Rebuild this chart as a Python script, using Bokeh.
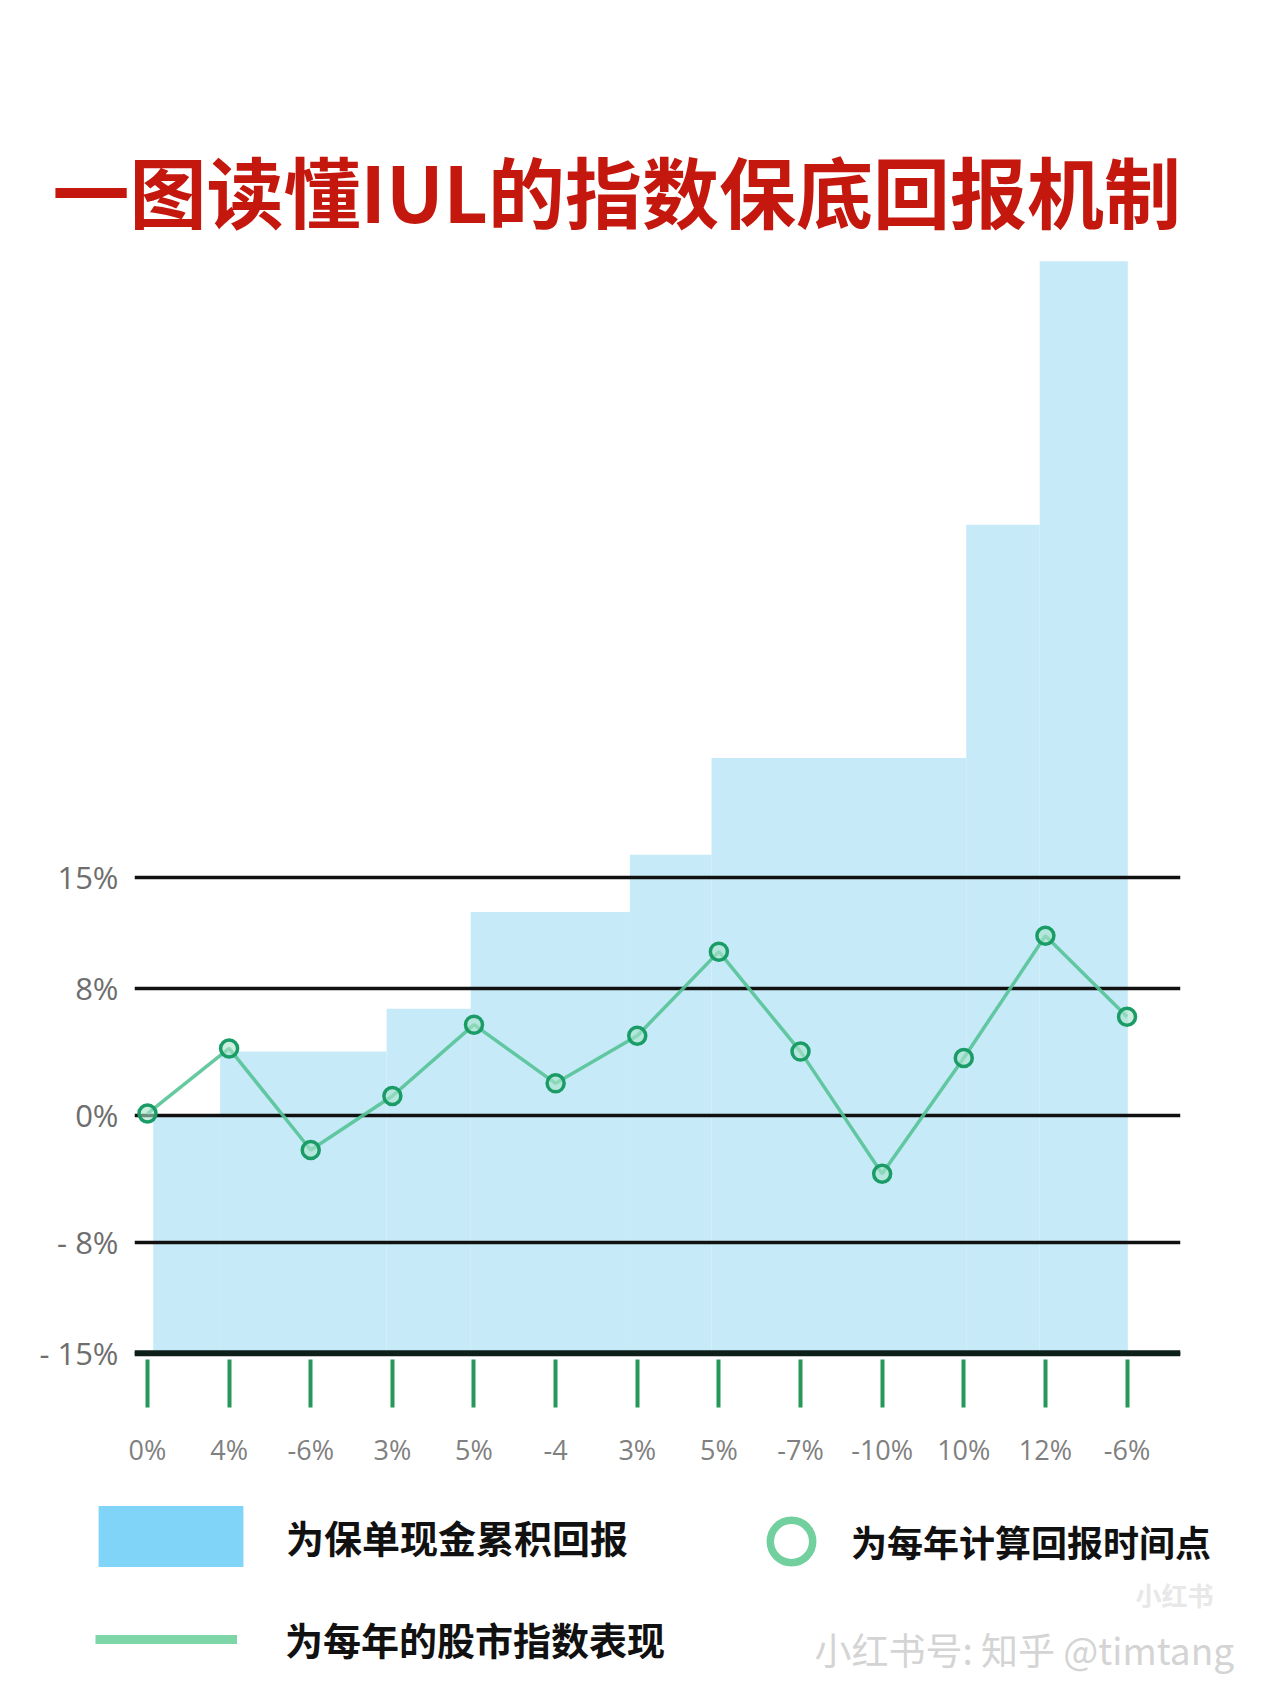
from bokeh.plotting import figure
from bokeh.models import (ColumnDataSource, FixedTicker, Span, Legend, LegendItem,
                          Label, Range1d)
from bokeh.embed import file_html
from bokeh.resources import INLINE

# ---------------- data ----------------
title_text = "一图读懂IUL的指数保底回报机制"
years = list(range(13))
index_labels = ["0%", "4%", "-6%", "3%", "5%", "-4", "3%", "5%", "-7%",
                "-10%", "10%", "12%", "-6%"]
# drawn yearly index-performance curve (as plotted, in %)
index_curve = [0.1, 4.2, -2.2, 1.2, 5.7, 2.0, 5.0, 10.3, 4.0, -3.7, 3.6, 11.3, 6.2]
# cumulative cash-value steps
step_left = [0.07, 0.89, 2.93, 3.96, 5.91, 6.91, 10.03, 10.93]
step_right = [0.89, 2.93, 3.96, 5.91, 6.91, 10.03, 10.93, 12.01]
step_top = [0.0, 4.0, 6.7, 12.8, 16.4, 22.5, 37.2, 53.8]
floor_value = -15
y_ticks = [-15, -8, 0, 8, 15]
y_tick_labels = ["- 15%", "- 8%", "0%", "8%", "15%"]
legend_labels = ["为保单现金累积回报", "为每年计算回报时间点", "为每年的股市指数表现"]
watermark = "小红书号: 知乎 @timtang"
badge = "小红书"

CJK = "Noto Sans CJK SC"
LAT = "Open Sans"

# ---------------- main chart ----------------
p = figure(width=1280, height=1484,
           x_range=Range1d(-0.159, 12.655), y_range=Range1d(-15.4, 54.48),
           output_backend="svg", toolbar_location=None,
           min_border_left=134, min_border_right=100,
           min_border_top=250, min_border_bottom=125,
           title=title_text)
p.outline_line_color = None
p.background_fill_color = "white"
p.border_fill_color = "white"

p.title.text_font = CJK
p.title.text_font_size = "77px"
p.title.text_font_style = "bold"
p.title.text_color = "#c4170e"
p.title.align = "left"
p.title.offset = -82
p.title.standoff = 11

bars = ColumnDataSource(dict(left=step_left, right=step_right, top=step_top))
rb = p.quad(left="left", right="right", bottom=floor_value, top="top", source=bars,
            fill_color="#c7eaf9", line_color=None)
rb.level = "image"

p.xgrid.visible = False
p.ygrid.ticker = FixedTicker(ticks=y_ticks)
p.ygrid.grid_line_color = "#111111"
p.ygrid.grid_line_width = 3.5

p.add_layout(Span(location=floor_value, dimension="width",
                  line_color="#0c1f18", line_width=6))

curve = ColumnDataSource(dict(x=years, y=index_curve))
p.line(x="x", y="y", source=curve, line_color="#55c396", line_width=3.5, line_alpha=0.9)
p.scatter(x="x", y="y", source=curve, marker="circle", size=17,
          fill_color="#a9e3c9", fill_alpha=0.6, line_color="#1a9c66", line_width=3.5)

# y axis
p.yaxis.ticker = FixedTicker(ticks=y_ticks)
p.yaxis.major_label_overrides = dict(zip(y_ticks, y_tick_labels))
p.yaxis.axis_line_color = None
p.yaxis.major_tick_line_color = None
p.yaxis.major_tick_out = 0
p.yaxis.major_tick_in = 0
p.yaxis.minor_tick_line_color = None
p.yaxis.major_label_text_font = LAT
p.yaxis.major_label_text_font_size = "31px"
p.yaxis.major_label_text_color = "#6e6e6e"
p.yaxis.major_label_standoff = 16

# x axis
p.xaxis.ticker = FixedTicker(ticks=years)
p.xaxis.major_label_overrides = dict(zip(years, index_labels))
p.xaxis.axis_line_color = None
p.xaxis.minor_tick_line_color = None
p.xaxis.major_tick_line_color = "#27975a"
p.xaxis.major_tick_line_width = 4
p.xaxis.major_tick_in = 0
p.xaxis.major_tick_out = 48
p.xaxis.major_label_text_font = LAT
p.xaxis.major_label_text_font_size = "27px"
p.xaxis.major_label_text_color = "#808080"
p.xaxis.major_label_standoff = 23

# ---------------- legend panel ----------------
lg = figure(width=1280, height=222, x_range=Range1d(0, 1), y_range=Range1d(0, 1),
            output_backend="svg", toolbar_location=None, min_border=0)
lg.axis.visible = False
lg.grid.visible = False
lg.outline_line_color = None

dummy = ColumnDataSource(dict(x=[-5], y=[-5], l=[-5], r=[-4], b=[-5], t=[-4]))
r_box = lg.quad(left="l", right="r", bottom="b", top="t", source=dummy,
                fill_color="#80d4f7", line_color=None)
r_ring = lg.scatter(x="x", y="y", source=dummy, marker="circle",
                    fill_color=None, line_color="#72d09f", line_width=7.5)
r_line = lg.line(x="x", y="y", source=dummy, line_color="#7ed5a8", line_width=9)


def make_legend(label, renderer, loc, gw, gh, standoff, size="38px"):
    leg = Legend(items=[LegendItem(label=label, renderers=[renderer])],
                 location=loc, glyph_width=gw, glyph_height=gh,
                 label_standoff=standoff, padding=0, margin=0,
                 border_line_color=None, background_fill_alpha=0,
                 label_text_font=CJK, label_text_font_size=size,
                 label_text_font_style="bold", label_text_color="#111111")
    lg.add_layout(leg)


make_legend(legend_labels[0], r_box, (80, 132), 181, 76, 25)
make_legend(legend_labels[1], r_ring, (738, 112), 106, 106, 7, "36px")
make_legend(legend_labels[2], r_line, (95, 40), 142, 46, 48)

lg.add_layout(Label(x=814, y=58, x_units="screen", y_units="screen", text=watermark,
                    text_font=CJK, text_font_size="37px", text_color="#d4d4d4",
                    text_baseline="middle"))
lg.add_layout(Label(x=1135, y=112, x_units="screen", y_units="screen", text=badge,
                    text_font=CJK, text_font_size="26px", text_font_style="bold",
                    text_color="#e8e8e8", text_baseline="middle"))

open("out.html", "w").write(file_html([p, lg], INLINE))
